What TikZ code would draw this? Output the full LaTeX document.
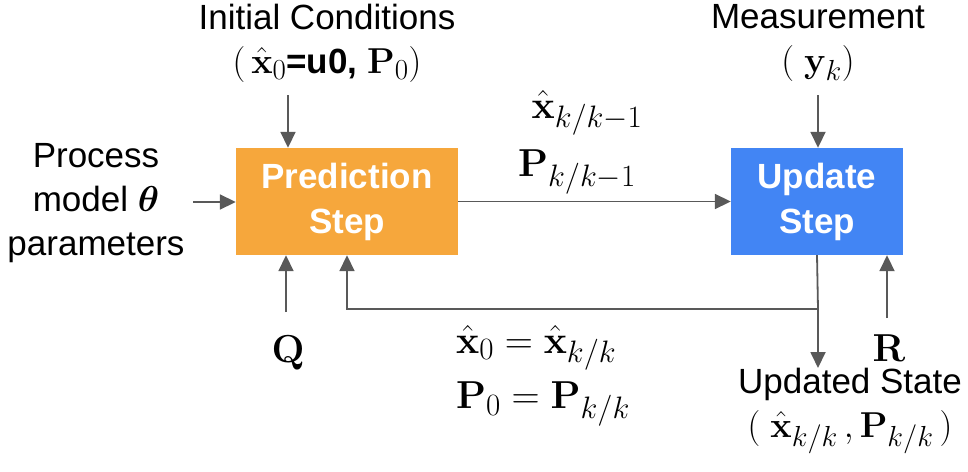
\RequirePackage{fix-cm}
\documentclass[tikz,border=0pt]{standalone}
\usepackage{amsmath}
\usepackage[no-math]{fontspec}
\setmainfont{Liberation Sans}
\usepackage{tikz}
\usetikzlibrary{arrows.meta, positioning, calc}
\definecolor{PredOrange}{RGB}{246, 167, 60}
\definecolor{UpdBlue}{RGB}{66, 133, 244}
\definecolor{ArrGray}{RGB}{89, 89, 89}
\DeclareMathSizes{35}{36}{29}{23}
\DeclareMathSizes{38}{39}{31}{25}

\begin{document}
\begin{tikzpicture}[x=1pt, y=-1pt,
  stepbox/.style={minimum height=107pt, inner sep=0pt, align=center, text=white,
    font=\fontsize{35}{45}\selectfont\bfseries},
  lbl/.style={align=center, inner sep=0pt, font=\fontsize{35}{44}\selectfont},
  mlbl/.style={inner sep=0pt, font=\fontsize{38}{44}\selectfont},
  arr/.style={draw=ArrGray, line width=1.8pt, -{Triangle[length=16pt, width=15pt]}}]
  \useasboundingbox (0,0) rectangle (968,471);

  % the two steps
  \node[stepbox, fill=PredOrange, minimum width=222pt] (pred) at (347,201.5) {Prediction\\Step};
  \node[stepbox, fill=UpdBlue, minimum width=172pt] (upd) at (817,201.5) {Update\\Step};

  % inputs
  \node[lbl] (init) at (327,43) {Initial Conditions\\
    $(\,\hat{\mathbf{x}}_0$\textbf{=u0,} $\mathbf{P}_0)$};
  \node[lbl] (meas) at (818,43) {Measurement\\$(\;\mathbf{y}_k)$};
  \node[lbl] (proc) at (96,203) {Process\\model $\boldsymbol{\theta}$\\parameters};
  \node[mlbl] (qlbl) at (288,353) {$\mathbf{Q}$};
  \node[mlbl] (rlbl) at (889,348) {$\mathbf{R}$};

  \coordinate (initin) at (288,95);
  \coordinate (measin) at (818,95);
  \coordinate (procin) at (193,202);
  \coordinate (qin) at (286,312);
  \coordinate (rin) at (887,318);
  \draw[arr] (initin) -- (initin |- pred.north);
  \draw[arr] (measin) -- (measin |- upd.north);
  \draw[arr] (procin) -- (procin -| pred.west);
  \draw[arr] (qin) -- (qin |- pred.south);
  \draw[arr] (rin) -- (rin |- upd.south);

  % prediction -> update
  \draw[arr] (pred.east) -- (upd.west);
  \node[mlbl] (xpred) at (587,113) {$\hat{\mathbf{x}}_{k/k-1}$};
  \node[mlbl] (ppred) at (577,172) {$\mathbf{P}_{k/k-1}$};

  % feedback and output
  \coordinate (split) at (818,309);
  \coordinate (outp) at (818,368);
  \draw[arr] (split) -| (pred.south);
  \draw[draw=ArrGray, line width=1.8pt] (upd.south) -- (split);
  \draw[arr] (split) -- (outp);
  \node[mlbl, anchor=west] (xreset) at (456,348) {$\hat{\mathbf{x}}_0 = \hat{\mathbf{x}}_{k/k}$};
  \node[mlbl, anchor=west] (preset) at (456,404) {$\mathbf{P}_0 = \mathbf{P}_{k/k}$};
  \node[lbl] (state) at (850,411) {Updated State\\
    $(\;\hat{\mathbf{x}}_{k/k}\,,\mathbf{P}_{k/k}\,)$};
\end{tikzpicture}
\end{document}
